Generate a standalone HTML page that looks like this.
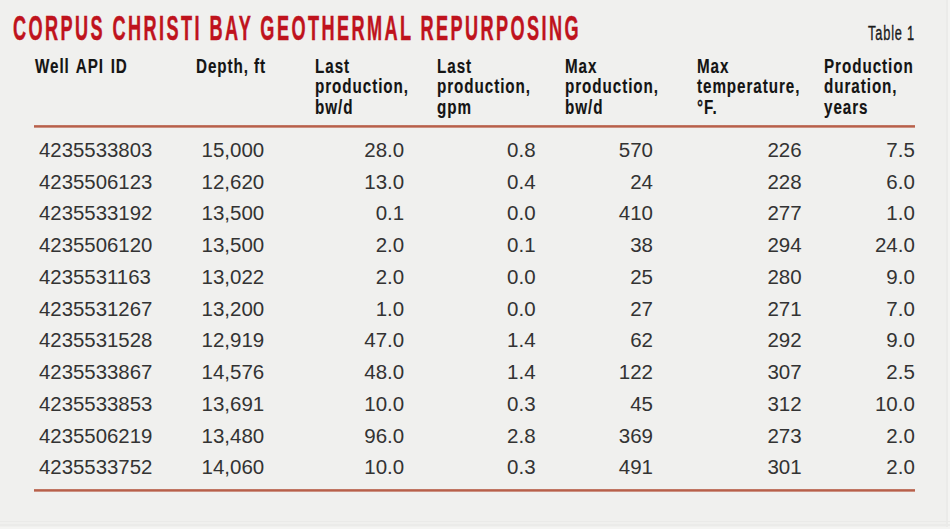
<!DOCTYPE html><html><head><meta charset="utf-8"><style>
html,body{margin:0;padding:0;}
body{width:950px;height:529px;overflow:hidden;position:relative;background:#f0f0ee;font-family:"Liberation Sans",sans-serif;}
.a{position:absolute;white-space:nowrap;}
.t{font-weight:bold;color:#bf131d;font-size:34.5px;line-height:40px;letter-spacing:4.62px;-webkit-text-stroke:0.5px #bf131d;transform:scaleX(0.525);transform-origin:0 0;}
.t1{color:#1a1a1a;font-size:19.4px;line-height:24px;letter-spacing:1.2px;-webkit-text-stroke:0.35px #1a1a1a;transform:scaleX(0.66);transform-origin:100% 0;text-align:right;}
.h{font-weight:bold;color:#141414;font-size:20.3px;line-height:20.4px;letter-spacing:1.25px;word-spacing:2.0px;-webkit-text-stroke:0.15px #141414;transform:scaleX(0.75);transform-origin:0 0;}
.d{color:#333;font-size:20.5px;line-height:24px;}
.r{text-align:right;transform:scaleX(1.0);transform-origin:100% 0;}
.l{transform:scaleX(0.994);transform-origin:0 0;}
.ln{position:absolute;background:#c9583f;height:2.5px;}
</style></head><body>
<div class="a t" style="left:13.00px;top:8.05px">CORPUS CHRISTI BAY GEOTHERMAL REPURPOSING</div>
<div class="a t1" style="right:34.70px;top:20.78px">Table 1</div>
<div class="a h" style="left:34.50px;top:55.77px">Well API ID</div>
<div class="a h" style="left:195.60px;top:55.77px"><span style="word-spacing:0">Depth, ft</span></div>
<div class="a h" style="left:314.50px;top:55.77px">Last<br>production,<br>bw/d</div>
<div class="a h" style="left:437.40px;top:55.77px">Last<br>production,<br>gpm</div>
<div class="a h" style="left:564.50px;top:55.77px">Max<br>production,<br>bw/d</div>
<div class="a h" style="left:696.80px;top:55.77px">Max<br>temperature,<br>°F.</div>
<div class="a h" style="left:823.70px;top:55.77px">Production<br>duration,<br>years</div>
<div class="ln" style="left:34px;width:881px;top:125px;height:3px;background:linear-gradient(rgba(184,96,74,0.850) 0px,rgba(184,96,74,0.850) 1px,rgba(184,96,74,1.000) 1px,rgba(184,96,74,1.000) 2px,rgba(184,96,74,0.650) 2px,rgba(184,96,74,0.650) 3px)"></div>
<div class="ln" style="left:34px;width:881px;top:489px;height:3px;background:linear-gradient(rgba(184,96,74,0.850) 0px,rgba(184,96,74,0.850) 1px,rgba(184,96,74,1.000) 1px,rgba(184,96,74,1.000) 2px,rgba(184,96,74,0.650) 2px,rgba(184,96,74,0.650) 3px)"></div>
<div class="a d l" style="left:38.90px;top:138.00px">4235533803</div>
<div class="a d r" style="right:685.80px;top:138.00px">15,000</div>
<div class="a d r" style="right:545.80px;top:138.00px">28.0</div>
<div class="a d r" style="right:414.40px;top:138.00px">0.8</div>
<div class="a d r" style="right:297.00px;top:138.00px">570</div>
<div class="a d r" style="right:148.40px;top:138.00px">226</div>
<div class="a d r" style="right:35.20px;top:138.00px">7.5</div>
<div class="a d l" style="left:38.90px;top:169.74px">4235506123</div>
<div class="a d r" style="right:685.80px;top:169.74px">12,620</div>
<div class="a d r" style="right:545.80px;top:169.74px">13.0</div>
<div class="a d r" style="right:414.40px;top:169.74px">0.4</div>
<div class="a d r" style="right:297.00px;top:169.74px">24</div>
<div class="a d r" style="right:148.40px;top:169.74px">228</div>
<div class="a d r" style="right:35.20px;top:169.74px">6.0</div>
<div class="a d l" style="left:38.90px;top:201.48px">4235533192</div>
<div class="a d r" style="right:685.80px;top:201.48px">13,500</div>
<div class="a d r" style="right:545.80px;top:201.48px">0.1</div>
<div class="a d r" style="right:414.40px;top:201.48px">0.0</div>
<div class="a d r" style="right:297.00px;top:201.48px">410</div>
<div class="a d r" style="right:148.40px;top:201.48px">277</div>
<div class="a d r" style="right:35.20px;top:201.48px">1.0</div>
<div class="a d l" style="left:38.90px;top:233.22px">4235506120</div>
<div class="a d r" style="right:685.80px;top:233.22px">13,500</div>
<div class="a d r" style="right:545.80px;top:233.22px">2.0</div>
<div class="a d r" style="right:414.40px;top:233.22px">0.1</div>
<div class="a d r" style="right:297.00px;top:233.22px">38</div>
<div class="a d r" style="right:148.40px;top:233.22px">294</div>
<div class="a d r" style="right:35.20px;top:233.22px">24.0</div>
<div class="a d l" style="left:38.90px;top:264.96px">4235531163</div>
<div class="a d r" style="right:685.80px;top:264.96px">13,022</div>
<div class="a d r" style="right:545.80px;top:264.96px">2.0</div>
<div class="a d r" style="right:414.40px;top:264.96px">0.0</div>
<div class="a d r" style="right:297.00px;top:264.96px">25</div>
<div class="a d r" style="right:148.40px;top:264.96px">280</div>
<div class="a d r" style="right:35.20px;top:264.96px">9.0</div>
<div class="a d l" style="left:38.90px;top:296.70px">4235531267</div>
<div class="a d r" style="right:685.80px;top:296.70px">13,200</div>
<div class="a d r" style="right:545.80px;top:296.70px">1.0</div>
<div class="a d r" style="right:414.40px;top:296.70px">0.0</div>
<div class="a d r" style="right:297.00px;top:296.70px">27</div>
<div class="a d r" style="right:148.40px;top:296.70px">271</div>
<div class="a d r" style="right:35.20px;top:296.70px">7.0</div>
<div class="a d l" style="left:38.90px;top:328.44px">4235531528</div>
<div class="a d r" style="right:685.80px;top:328.44px">12,919</div>
<div class="a d r" style="right:545.80px;top:328.44px">47.0</div>
<div class="a d r" style="right:414.40px;top:328.44px">1.4</div>
<div class="a d r" style="right:297.00px;top:328.44px">62</div>
<div class="a d r" style="right:148.40px;top:328.44px">292</div>
<div class="a d r" style="right:35.20px;top:328.44px">9.0</div>
<div class="a d l" style="left:38.90px;top:360.18px">4235533867</div>
<div class="a d r" style="right:685.80px;top:360.18px">14,576</div>
<div class="a d r" style="right:545.80px;top:360.18px">48.0</div>
<div class="a d r" style="right:414.40px;top:360.18px">1.4</div>
<div class="a d r" style="right:297.00px;top:360.18px">122</div>
<div class="a d r" style="right:148.40px;top:360.18px">307</div>
<div class="a d r" style="right:35.20px;top:360.18px">2.5</div>
<div class="a d l" style="left:38.90px;top:391.92px">4235533853</div>
<div class="a d r" style="right:685.80px;top:391.92px">13,691</div>
<div class="a d r" style="right:545.80px;top:391.92px">10.0</div>
<div class="a d r" style="right:414.40px;top:391.92px">0.3</div>
<div class="a d r" style="right:297.00px;top:391.92px">45</div>
<div class="a d r" style="right:148.40px;top:391.92px">312</div>
<div class="a d r" style="right:35.20px;top:391.92px">10.0</div>
<div class="a d l" style="left:38.90px;top:423.66px">4235506219</div>
<div class="a d r" style="right:685.80px;top:423.66px">13,480</div>
<div class="a d r" style="right:545.80px;top:423.66px">96.0</div>
<div class="a d r" style="right:414.40px;top:423.66px">2.8</div>
<div class="a d r" style="right:297.00px;top:423.66px">369</div>
<div class="a d r" style="right:148.40px;top:423.66px">273</div>
<div class="a d r" style="right:35.20px;top:423.66px">2.0</div>
<div class="a d l" style="left:38.90px;top:455.40px">4235533752</div>
<div class="a d r" style="right:685.80px;top:455.40px">14,060</div>
<div class="a d r" style="right:545.80px;top:455.40px">10.0</div>
<div class="a d r" style="right:414.40px;top:455.40px">0.3</div>
<div class="a d r" style="right:297.00px;top:455.40px">491</div>
<div class="a d r" style="right:148.40px;top:455.40px">301</div>
<div class="a d r" style="right:35.20px;top:455.40px">2.0</div>
<div style="position:absolute;left:946px;top:0;width:2px;height:529px;background:#ebebe9"></div>
<div style="position:absolute;left:948px;top:0;width:2px;height:529px;background:#f4f4f2"></div>
<div style="position:absolute;left:0;top:521px;width:950px;height:1px;background:#eaeae8"></div>
<div style="position:absolute;left:0;top:524px;width:950px;height:2px;background:#ebebe9"></div>
<div style="position:absolute;left:0;top:527px;width:950px;height:2px;background:#f4f4f2"></div>
</body></html>
